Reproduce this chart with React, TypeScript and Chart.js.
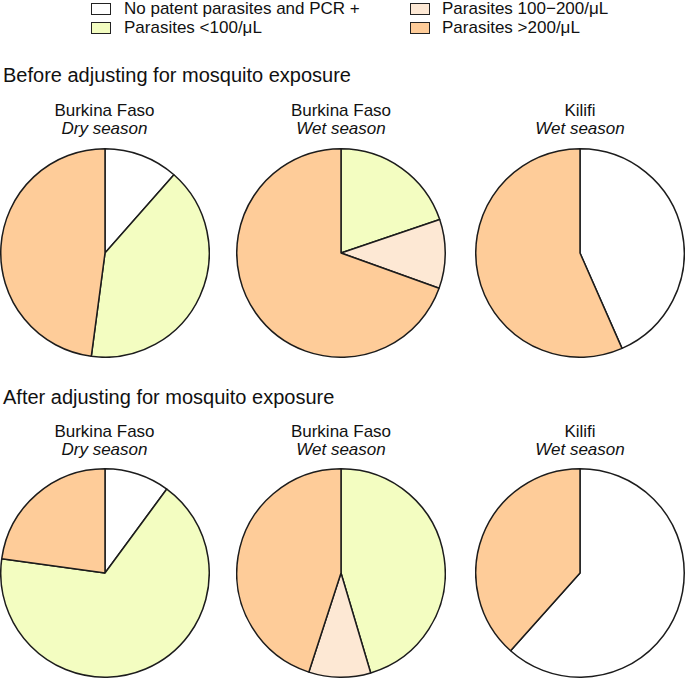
import React, { useEffect, useRef } from "react";
import { Chart, registerables } from "chart.js";

Chart.register(...registerables);

// ---- data ----
const categories = [
  "No patent parasites and PCR +",
  "Parasites <100/\u03bcL",
  "Parasites 100\u2212200/\u03bcL",
  "Parasites >200/\u03bcL",
];
const categoryColors = ["#FFFFFF", "#F3FDC1", "#FDE8D4", "#FECC99"];

const sectionTitles = [
  "Before adjusting for mosquito exposure",
  "After adjusting for mosquito exposure",
];
const siteNames = ["Burkina Faso", "Burkina Faso", "Kilifi"];
const seasonNames = ["Dry season", "Wet season", "Wet season"];

// percentages per category (order = categories)
const beforeBurkinaDry = [11.5, 40.6, 0, 47.9];
const beforeBurkinaWet = [0, 19.8, 10.7, 69.5];
const beforeKilifiWet = [43.4, 0, 0, 56.6];
const afterBurkinaDry = [10.1, 67.1, 0, 22.8];
const afterBurkinaWet = [0, 45.4, 9.6, 45.0];
const afterKilifiWet = [61.6, 0, 0, 38.4];

const rows = [
  [beforeBurkinaDry, beforeBurkinaWet, beforeKilifiWet],
  [afterBurkinaDry, afterBurkinaWet, afterKilifiWet],
];

// ---- layout ----
const FONT = '"Liberation Sans", Arial, Helvetica, sans-serif';
const PIE_SIZE = 210;
const colCenters = [104.5, 341, 580];
const rowPieCenters = [252.5, 573];
const rowTitleY = [75, 397];
const rowSiteY = [111, 432];
const rowSeasonY = [129, 450];

function Pie({ values, cx, cy }: { values: number[]; cx: number; cy: number }) {
  const ref = useRef<HTMLCanvasElement | null>(null);
  useEffect(() => {
    if (!ref.current) return;
    const chart = new Chart(ref.current, {
      type: "pie",
      data: {
        labels: categories,
        datasets: [
          {
            data: values,
            backgroundColor: categoryColors,
            borderColor: "#1c1c1c",
            borderWidth: 1.5,
          },
        ],
      },
      options: {
        responsive: false,
        animation: false,
        layout: { padding: 0 },
        plugins: { legend: { display: false }, tooltip: { enabled: false } },
      },
    });
    return () => chart.destroy();
  }, [values]);
  return (
    <canvas
      ref={ref}
      width={PIE_SIZE}
      height={PIE_SIZE}
      style={{
        position: "absolute",
        left: cx - PIE_SIZE / 2,
        top: cy - PIE_SIZE / 2,
        width: PIE_SIZE,
        height: PIE_SIZE,
      }}
    />
  );
}

function Txt({
  text,
  x,
  cy,
  size,
  align = "left",
  italic = false,
}: {
  text: string;
  x: number;
  cy: number;
  size: number;
  align?: "left" | "center";
  italic?: boolean;
}) {
  const h = size * 1.2;
  const style: React.CSSProperties = {
    position: "absolute",
    top: cy - h / 2,
    height: h,
    lineHeight: `${h}px`,
    fontSize: size,
    fontFamily: FONT,
    fontStyle: italic ? "italic" : "normal",
    whiteSpace: "nowrap",
    color: "#111",
  };
  if (align === "center") {
    style.left = x - 150;
    style.width = 300;
    style.textAlign = "center";
  } else {
    style.left = x;
  }
  return <div style={style}>{text}</div>;
}

export default function App() {
  const legendPos = [
    { bx: 91, tx: 124, cy: 9 },
    { bx: 91, tx: 124, cy: 28 },
    { bx: 410, tx: 442, cy: 9 },
    { bx: 410, tx: 442, cy: 28 },
  ];
  return (
    <div
      style={{
        position: "absolute",
        left: 0,
        top: 0,
        width: 685,
        height: 678,
        overflow: "hidden",
        background: "#fff",
      }}
    >
      {categories.map((c, i) => (
        <React.Fragment key={c}>
          <div
            style={{
              position: "absolute",
              boxSizing: "border-box",
              left: legendPos[i].bx,
              top: legendPos[i].cy - 6,
              width: 20,
              height: 12,
              background: categoryColors[i],
              border: "1.5px solid #222",
            }}
          />
          <Txt text={c} x={legendPos[i].tx} cy={legendPos[i].cy} size={17} />
        </React.Fragment>
      ))}
      {rows.map((row, r) => (
        <React.Fragment key={r}>
          <Txt text={sectionTitles[r]} x={3} cy={rowTitleY[r]} size={20} />
          {row.map((vals, c) => (
            <React.Fragment key={c}>
              <Txt text={siteNames[c]} x={colCenters[c]} cy={rowSiteY[r]} size={17} align="center" />
              <Txt
                text={seasonNames[c]}
                x={colCenters[c]}
                cy={rowSeasonY[r]}
                size={17}
                align="center"
                italic
              />
              <Pie values={vals} cx={colCenters[c]} cy={rowPieCenters[r]} />
            </React.Fragment>
          ))}
        </React.Fragment>
      ))}
    </div>
  );
}
